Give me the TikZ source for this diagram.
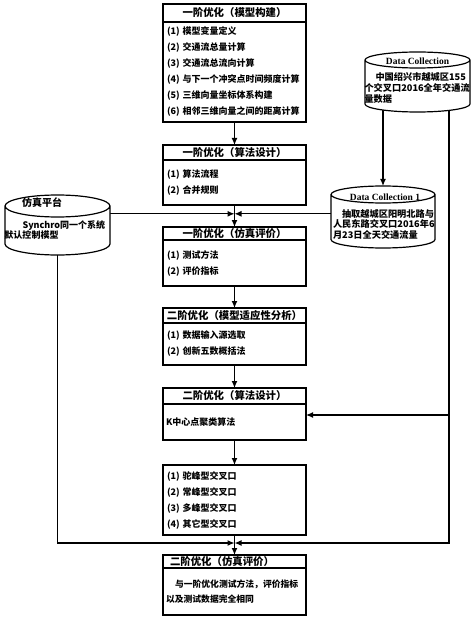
\documentclass[tikz,border=0pt]{standalone}
\usepackage{fontspec}
\setmainfont{Noto Sans CJK SC}
\newfontfamily\dcfont{Liberation Serif}
\usepackage{tikz}
\usetikzlibrary{arrows.meta}
\usetikzlibrary{calc}
\usetikzlibrary{positioning}
\usetikzlibrary{backgrounds}
\tikzset{>={Latex[length=7pt,width=6pt]}}

% drum outline round an empty node: #1 node name, #2 cap radius (pt)
\newcommand{\drum}[2]{%
    \draw[line width=1.2pt,fill=white]
        let \p1=($(#1.north east)-(#1.north west)$), \n1={0.5*\x1} in
        ($(#1.north west)+(0,-#2)$) -- ($(#1.south west)+(0,#2)$)
        arc[start angle=180,end angle=360,x radius=\n1,y radius=#2pt]
        -- ($(#1.north east)+(0,-#2)$)
        arc[start angle=0,end angle=180,x radius=\n1,y radius=#2pt] -- cycle
        ($(#1.north west)+(0,-#2)$)
        arc[start angle=180,end angle=360,x radius=\n1,y radius=#2pt];}

\begin{document}
\begin{tikzpicture}[
        x=1pt,y=1pt,
        ttl/.style={draw,line width=1.5pt,outer sep=0pt,inner sep=0pt,
            text width=137pt,minimum width=143pt,minimum height=#1,align=center,
            font=\fontsize{10.4}{12}\selectfont\bfseries},
        ttl/.default=15pt,
        body/.style={draw,line width=1.5pt,outer sep=0pt,inner xsep=3pt,inner ysep=0pt,
            text width=137pt,minimum height=#1,align=left,
            font=\fontsize{9}{16}\selectfont\bfseries},
        drumbox/.style={inner sep=0pt,outer sep=0pt,minimum width=105pt,minimum height=60pt},
        cyltxt/.style={inner sep=0pt,text width=104pt,align=left,
            font=\fontsize{9.2}{11}\selectfont\bfseries},
        conn/.style={line width=1.2pt,->}
    ]
    \useasboundingbox (0,0) rectangle (474,-620);

    % first order
    \node[ttl=18pt] (t1) at (234.5,-13) {一阶优化（模型构建）};
    \node[body=100pt,below=0pt of t1] (b1) {\hspace*{1pt}(1)~模型变量定义\\\hspace*{1pt}(2)~交通流总量计算\\\hspace*{1pt}(3)~交通流总流向计算\\\hspace*{1pt}(4)~与下一个冲突点时间频度计算\\\hspace*{1pt}(5)~三维向量坐标体系构建\\\hspace*{1pt}(6)~相邻三维向量之间的距离计算};

    \node[ttl=15pt,below=23pt of b1] (t2) {一阶优化（算法设计）};
    \node[body=45pt,below=0pt of t2] (b2) {\hspace*{1pt}(1)~算法流程\\\hspace*{1pt}(2)~合并规则};

    \node[ttl=13pt,below=22pt of b2] (t3) {一阶优化（仿真评价）};
    \node[body=46pt,below=0pt of t3] (b3) {\hspace*{1pt}(1)~测试方法\\\hspace*{1pt}(2)~评价指标};

    % second order
    \node[ttl=15pt,below=22pt of b3] (t4) {二阶优化（模型适应性分析）};
    \node[body=42pt,below=0pt of t4] (b4) {\hspace*{1pt}(1)~数据输入源选取\\\hspace*{1pt}(2)~创新五数概括法};

    \node[ttl=16pt,below=23pt of b4] (t5) {二阶优化（算法设计）};
    \node[body=36pt,below=0pt of t5] (b5) {K中心点聚类算法};

    \node[body=70pt,below=25pt of b5] (b6) {\hspace*{1pt}(1)~驼峰型交叉口\\\hspace*{1pt}(2)~常峰型交叉口\\\hspace*{1pt}(3)~多峰型交叉口\\\hspace*{1pt}(4)~其它型交叉口};

    \node[ttl=13pt,below=20pt of b6,align=left] (t7) {\hspace*{4pt}二阶优化（仿真评价）};
    \node[body=47pt,below=0pt of t7,font=\fontsize{8.8}{15}\selectfont\bfseries] (b7) {\hspace*{9pt}与一阶优化测试方法，评价指标\\以及测试数据完全相同};

    % data sources
    \node[drumbox] (sim) at (57.5,-225) {};
    \node[drumbox] (dc) at (417.5,-82) {};
    \node[drumbox,minimum width=104pt,minimum height=62pt] (dc1) at (383,-217) {};
    \drum{sim}{11}
    \drum{dc}{8}
    \drum{dc1}{8.5}

    \node[anchor=west,inner sep=0pt,font=\fontsize{10}{12}\selectfont\bfseries] (simttl) at (22,-203) {仿真平台};
    \node[cyltxt,font=\fontsize{9}{10.5}\selectfont\bfseries] (simtxt) at ($(sim.center)+(-1,-5)$) {\hspace*{18pt}Synchro同一个系统\\默认控制模型};

    \node[inner sep=0pt,font=\dcfont\fontsize{9.5}{11}\selectfont\bfseries] (dcttl) at ($(dc.center)+(0,21)$) {Data Collection};
    \node[cyltxt] (dctxt) at ($(dc.center)+(-1,-5.5)$) {\hspace*{11pt}中国绍兴市越城区155\\个交叉口2016全年交通流\\量数据};

    \node[inner sep=0pt,font=\dcfont\fontsize{9.5}{11}\selectfont\bfseries] (dc1ttl) at ($(dc1.center)+(2,20)$) {Data Collection 1};
    \node[cyltxt,text width=100pt,font=\fontsize{9.2}{10.5}\selectfont\bfseries] (dc1txt) at ($(dc1.center)+(0,-7)$) {\hspace*{9pt}抽取越城区阳明北路与\\人民东路交叉口2016年6\\月23日全天交通流量};

    % merge points
    \coordinate (m1) at ($(b2.south)!0.4!(t3.north)$);
    \coordinate (m2) at ($(b6.south)!0.4!(t7.north)$);
    \coordinate (rt) at ($(dc.center)+(31.5,0)$);
    \coordinate (k) at ($(b5.east)+(0,7)$);

    \begin{scope}[on background layer]
        \draw[conn] (b1) -- (t2);
        \draw[conn] (b2) -- (t3);
        \draw[conn] (b3) -- (t4);
        \draw[conn] (b4) -- (t5);
        \draw[conn] (b5) -- (b6);
        \draw[conn] (b6) -- (t7);

        \draw[conn] (sim.east |- m1) -- (m1);
        \draw[conn] (dc1.west |- m1) -- (m1);
        \draw[conn] (dc.center -| dc1.north) -- (dc1.north);

        \draw[conn] (sim.south) |- (m2);
        \draw[conn] (rt) |- (m2);
        \draw[conn] (rt |- k) -- (k);
    \end{scope}
\end{tikzpicture}
\end{document}
